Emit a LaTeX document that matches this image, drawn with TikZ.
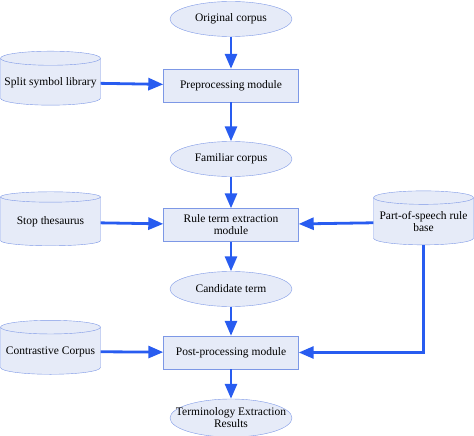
\documentclass[tikz,border=0pt]{standalone}
\usepackage{fontspec}
\setmainfont{Liberation Serif}
\usetikzlibrary{shapes.geometric,arrows.meta}
\definecolor{flowblue}{RGB}{40,92,240}
\definecolor{boxfill}{RGB}{230,235,248}
\definecolor{boxline}{RGB}{125,152,230}
\tikzset{
  modulo/.style={draw=boxline, fill=boxfill, rectangle, minimum width=135, minimum height=33, align=center, inner sep=1pt},
  corpus/.style={draw=boxline, fill=boxfill, ellipse, minimum width=122, minimum height=35, align=center, inner sep=0pt},
  archivio/.style={draw=boxline, fill=boxfill, cylinder, shape border rotate=90, aspect=0.15, minimum width=100, minimum height=54, align=center, inner sep=1pt},
  freccia/.style={draw=flowblue, line width=2.8pt, -{Triangle[length=15pt,width=12pt]}}
}
\begin{document}
\begin{tikzpicture}[x=1pt, y=-1pt, font=\rmfamily\fontsize{11.5}{12}\selectfont]
			\useasboundingbox (0,0) rectangle (474,436);
			% Nodi centrali
			\node[corpus] (orig) at (231,19) {Original corpus};
			\node[modulo] (prep) at (231,85.5) {Preprocessing module};
			\node[corpus] (fam) at (231,159) {Familiar corpus};
			\node[modulo] (rule) at (231,225) {Rule term extraction\\module};
			\node[corpus] (cand) at (231,289) {Candidate term};
			\node[modulo] (post) at (231,352.5) {Post-processing module};
			\node[corpus, minimum height=38, inner xsep=-22pt] (term) at (231,418) {Terminology Extraction\\Results};

			% Archivi laterali
			\node[archivio] (split) at (50.5,82.5) {Split symbol library};
			\node[archivio] (stop) at (50.5,222) {Stop thesaurus};
			\node[archivio] (contr) at (50.5,351.5) {Contrastive Corpus};
			\node[archivio] (pos) at (423.5,222) {Part-of-speech rule\\base};

			% Collega i nodi
			\draw[freccia] (orig) -- (prep);
			\draw[freccia] (prep) -- (fam);
			\draw[freccia] (fam) -- (rule);
			\draw[freccia] (rule) -- (cand);
			\draw[freccia] (cand) -- (post);
			\draw[freccia] (post) -- (term);
			\draw[freccia] (split) -- (prep);
			\draw[freccia] (stop) -- (rule);
			\draw[freccia] (contr) -- (post);
			\draw[freccia] (pos) -- (rule);
			\draw[freccia] (pos.south) |- (post.east);
		\end{tikzpicture}
\end{document}
